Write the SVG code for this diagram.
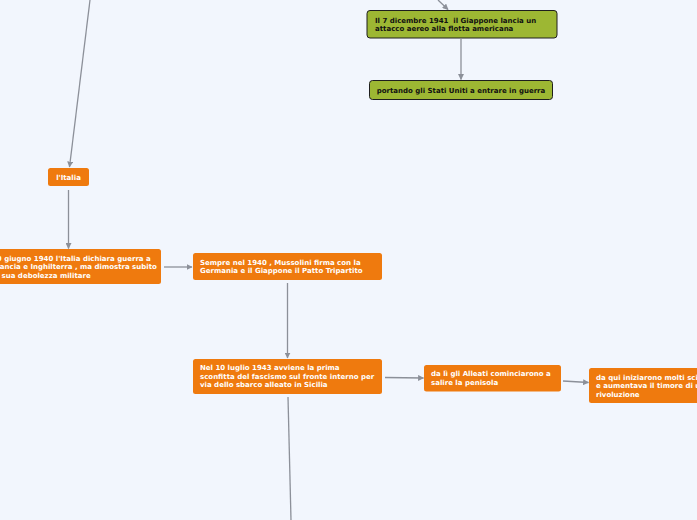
<svg xmlns="http://www.w3.org/2000/svg" width="697" height="520" viewBox="0 0 697 520">
<style>
.bg{fill:#f2f6fd}
.o{fill:#ef7a0e}
.g{fill:#9db733;stroke:#1e1e1e;stroke-width:1}
.tw{font-family:"DejaVu Sans",Verdana,sans-serif;font-weight:bold;font-size:7px;fill:#ffffff}
.tb{font-family:"DejaVu Sans",Verdana,sans-serif;font-weight:bold;font-size:7px;fill:#111111}
.c{stroke:#8c9099;stroke-width:1.3;fill:none}
</style>
<defs>
<marker id="ah" viewBox="0 0 10 10" refX="9" refY="5" markerWidth="6" markerHeight="6" markerUnits="userSpaceOnUse" orient="auto">
<path d="M0,0 L10,5 L0,10 Z" fill="#8c9099"/>
</marker>
</defs>
<rect class="bg" x="0" y="0" width="697" height="520"/>
<g id="connectors">
<line class="c" x1="90" y1="0" x2="69.5" y2="167" marker-end="url(#ah)"/>
<line class="c" x1="438" y1="0" x2="448" y2="9.5" marker-end="url(#ah)"/>
<line class="c" x1="461" y1="39" x2="461" y2="79.5" marker-end="url(#ah)"/>
<line class="c" x1="68.5" y1="190" x2="68.5" y2="248.5" marker-end="url(#ah)"/>
<line class="c" x1="164" y1="267" x2="192" y2="267" marker-end="url(#ah)"/>
<line class="c" x1="287.5" y1="283" x2="287.5" y2="358" marker-end="url(#ah)"/>
<line class="c" x1="385" y1="377.5" x2="423.5" y2="378" marker-end="url(#ah)"/>
<line class="c" x1="563" y1="381" x2="588.5" y2="382.5" marker-end="url(#ah)"/>
<line class="c" x1="288" y1="397" x2="291" y2="520"/>
</g>
<g id="n-italia">
<rect class="o" x="48" y="168" width="41" height="18" rx="2.5"/>
<text class="tw" x="68.5" y="179.5" text-anchor="middle">l'Italia</text>
</g>
<g id="n-giugno">
<rect class="o" x="-16" y="249" width="177" height="35" rx="2.5"/>
<text class="tw" x="-8" y="260.5">10 giugno 1940 l'Italia dichiara guerra a</text>
<text class="tw" x="-8" y="269">Francia e Inghilterra , ma dimostra subito</text>
<text class="tw" x="-8" y="277.5">la sua debolezza militare</text>
</g>
<g id="n-sempre">
<rect class="o" x="193" y="253" width="189" height="27" rx="2.5"/>
<text class="tw" x="200" y="264.5">Sempre nel 1940 , Mussolini firma con la</text>
<text class="tw" x="200" y="273">Germania e il Giappone il Patto Tripartito</text>
</g>
<g id="n-luglio">
<rect class="o" x="193" y="359" width="189" height="35" rx="2.5"/>
<text class="tw" x="200" y="370">Nel 10 luglio 1943 avviene la prima</text>
<text class="tw" x="200" y="378.5">sconfitta del fascismo sul fronte interno per</text>
<text class="tw" x="200" y="387">via dello sbarco alleato in Sicilia</text>
</g>
<g id="n-alleati">
<rect class="o" x="424" y="365" width="137" height="26.5" rx="2.5"/>
<text class="tw" x="431" y="376">da lì gli Alleati cominciarono a</text>
<text class="tw" x="431" y="384.5">salire la penisola</text>
</g>
<g id="n-qui">
<rect class="o" x="589" y="368" width="120" height="35" rx="2.5"/>
<text class="tw" x="596" y="379.5">da qui iniziarono molti scioperi</text>
<text class="tw" x="596" y="388">e aumentava il timore di una</text>
<text class="tw" x="596" y="396.5">rivoluzione</text>
</g>
<g id="n-dicembre">
<rect class="g" x="367" y="10.5" width="190" height="27.5" rx="3"/>
<text class="tb" x="375" y="22.5" xml:space="preserve">Il 7 dicembre 1941  il Giappone lancia un</text>
<text class="tb" x="375" y="30.5">attacco aereo alla flotta americana</text>
</g>
<g id="n-usa">
<rect class="g" x="369.5" y="80.5" width="183" height="19" rx="3"/>
<text class="tb" x="461" y="92.5" text-anchor="middle">portando gli Stati Uniti a entrare in guerra</text>
</g>
</svg>
